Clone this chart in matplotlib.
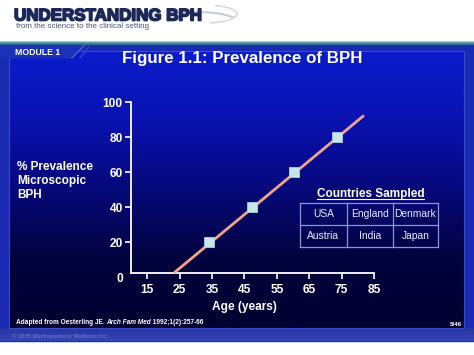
import matplotlib
matplotlib.use('Agg')
import matplotlib.pyplot as plt
import numpy as np
from matplotlib.patches import Rectangle, Polygon, Arc
from matplotlib.colors import LinearSegmentedColormap
import matplotlib.patheffects as pe

plt.rcParams['font.family'] = ['Liberation Sans', 'DejaVu Sans']

# ---- data ----
ages = [34.0, 47.4, 60.4, 73.5]
prevalence = [20, 40, 60, 80]
fit_age = [23.3, 81.9]
fit_prev = [2.6, 92.5]
x_ticks = [15, 25, 35, 45, 55, 65, 75, 85]
y_ticks = [0, 20, 40, 60, 80, 100]
countries = [["USA", "England", "Denmark"], ["Austria", "India", "Japan"]]

W, H = 474, 355
fig = plt.figure(figsize=(W / 100, H / 100), dpi=100)
fig.patch.set_facecolor('white')

bg = fig.add_axes([0, 0, 1, 1])
bg.axis('off')

# outer blue frame
bg.add_patch(Rectangle((0, 45), W, 296, color='#1a2ab2', zorder=0))
# teal rule
teal = LinearSegmentedColormap.from_list('t', ['#bfe0e0', '#3d8f9a', '#2a6c8a'])
bg.imshow(np.linspace(0, 1, 20).reshape(-1, 1), extent=[0, W, 45.5, 41.5], aspect='auto', cmap=teal, zorder=1)
# inner panel gradient
panel = LinearSegmentedColormap.from_list('p', ['#0c1ccc', '#0a12b0', '#06087a', '#02023e', '#010130'])
bg.imshow(np.linspace(0, 1, 256).reshape(-1, 1), extent=[9, 464, 328, 51], aspect='auto', cmap=panel, zorder=1)
bg.add_patch(Rectangle((9, 51), 455, 277, fill=False, ec='#3a4cc8', lw=0.8, zorder=2))
# bottom band
band = LinearSegmentedColormap.from_list('b', ['#2636a6', '#3446b0'])
bg.imshow(np.linspace(0, 1, 20).reshape(-1, 1), extent=[0, W, 341, 328.5], aspect='auto', cmap=band, zorder=1)
# module tab
bg.add_patch(Polygon([[0, 45.5], [82, 45.5], [72, 58], [0, 58]], closed=True, color='#1c30b8', zorder=2))
bg.plot([72, 84], [58, 45.5], color='#5a6ad0', lw=0.8, zorder=2)
bg.plot([80, 90], [58, 45.5], color='#3a4cc0', lw=0.8, zorder=2)

# logo
bg.text(14, 16, 'UNDERSTANDING BPH', fontsize=12.2, fontweight='bold', color='#1c2858', va='center', ha='left', zorder=3,
        path_effects=[pe.withStroke(linewidth=1.2, foreground='#1c2858')])
bg.text(16, 26.7, 'from the science to the clinical setting', fontsize=5.8, color='#4a5878', va='center', ha='left', zorder=3)
bg.add_patch(Arc((198, 24), 84, 24, theta1=200, theta2=350, color='#c8cfd6', lw=1.6, zorder=2))
bg.add_patch(Arc((205, 14), 64, 18, theta1=320, theta2=60, color='#d6dbe0', lw=1.2, zorder=2))

bg.text(15, 52.7, 'MODULE 1', fontsize=6.3, fontweight='bold', color='white', va='center', ha='left', zorder=3)
bg.text(242, 59, 'Figure 1.1: Prevalence of BPH', fontsize=12.2, fontweight='bold', color='white', va='center', ha='center', zorder=3)

# y label
for i, line in enumerate(['% Prevalence', 'Microscopic', 'BPH']):
    bg.text(17, 167 + 14 * i, line, fontsize=8.5, fontweight='bold', color='white', va='center', ha='left', zorder=3)

bg.text(244, 307, 'Age (years)', fontsize=8.6, fontweight='bold', color='white', va='center', ha='center', zorder=3)

# countries table
bg.text(370.5, 193.5, 'Countries Sampled', fontsize=8.5, fontweight='bold', color='white', va='center', ha='center', zorder=3)
bg.plot([317, 424], [199, 199], color='white', lw=0.8, zorder=3)
col_edges = [300, 346.7, 392.7, 438]
row_edges = [202.7, 225, 246.7]
tcol = '#8a96d4'
for xe in col_edges:
    bg.plot([xe, xe], [row_edges[0], row_edges[-1]], color=tcol, lw=0.9, zorder=3)
for ye in row_edges:
    bg.plot([col_edges[0], col_edges[-1]], [ye, ye], color=tcol, lw=0.9, zorder=3)
for r, row in enumerate(countries):
    for c, name in enumerate(row):
        bg.text((col_edges[c] + col_edges[c + 1]) / 2, (row_edges[r] + row_edges[r + 1]) / 2, name,
                fontsize=7.4, color='#e8ecff', va='center', ha='center', zorder=3)

# footer
renderer = fig.canvas.get_renderer()
parts = [('Adapted from Oesterling JE. ', 'normal'), ('Arch Fam Med', 'italic'), (' 1992;1(2):257-66', 'normal')]
bg.set_xlim(0, W)
bg.set_ylim(H, 0)
xpos = 16
for txt, sty in parts:
    t = bg.text(xpos, 323, txt, fontsize=4.7, fontweight='bold', style=sty, color='white', va='center', ha='left', zorder=3)
    bb = t.get_window_extent(renderer=renderer)
    xpos += bb.width
bg.text(462, 324, '5/46', fontsize=4.5, fontweight='bold', color='white', va='center', ha='right', zorder=3)
bg.text(12, 336, '\u00a9 2005 Mechanisms in Medicine Inc.', fontsize=4.2, color='#7482c4', va='center', ha='left', zorder=3)

bg.set_xlim(0, W)
bg.set_ylim(H, 0)

# ---- chart ----
ax = fig.add_axes([131.1 / W, (H - 277.3) / H, 242.9 / W, 175 / H])
ax.patch.set_alpha(0)
ax.set_xlim(10, 85)
ax.set_ylim(0, 100)
for s in ['top', 'right']:
    ax.spines[s].set_visible(False)
ax.spines['bottom'].set_position(('data', 2.6))
ax.spines['left'].set_bounds(2.6, 100)
for s in ['bottom', 'left']:
    ax.spines[s].set_color('white')
    ax.spines[s].set_linewidth(1.3)
ax.set_xticks(x_ticks)
ax.set_yticks(y_ticks)
ax.set_xticklabels([str(v) for v in x_ticks], fontweight='bold')
ax.set_yticklabels([str(v) for v in y_ticks], fontweight='bold')
ax.tick_params(axis='both', colors='white', length=4, width=1.2, labelsize=8.6)
ax.tick_params(axis='x', pad=4)
ax.tick_params(axis='y', pad=2)
ax.yaxis.get_major_ticks()[0].tick1line.set_visible(False)

ax.plot(fit_age, fit_prev, color='#f3a38c', lw=2.0, solid_capstyle='butt', zorder=3)
ax.plot(ages, prevalence, 's', ms=6.5, color='#c6e6e8', mec='#a9d3dc', mew=0.6, zorder=4)

fig.savefig('out.png', dpi=100)
